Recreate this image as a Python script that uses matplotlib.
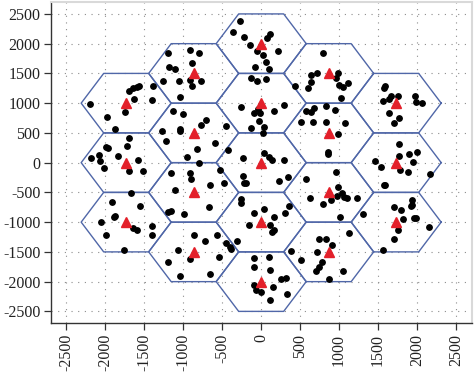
import numpy as np
import matplotlib
matplotlib.use('Agg')
import matplotlib.pyplot as plt

# cell centres (base stations)
cell_x = [-1732, -1732, -1732, -866, -866, -866, -866, 0, 0, 0, 0, 0,
          866, 866, 866, 866, 1732, 1732, 1732]
cell_y = [1000, 0, -1000, 1500, 500, -500, -1500, 2000, 1000, 0, -1000, -2000,
          1500, 500, -500, -1500, 1000, 0, -1000]
hex_r = 1000 / np.sqrt(3)

# users (grouped roughly per cell)
users_x = [
    -2200, -1690, -1638, -1594, -1561, -1383, -1629, -1399, -1753, -1982, -1871,
    -1697, -1995, -1964, -1718, -2181, -2079, -2062, -1842, -2011, -1578, -1693, -1510,
    -1676, -1913, -1893, -1875, -1556, -2054, -1995, -1645, -1591, -1399, -1399, -1760,
    -1191, -911, -800, -893, -1179, -1106, -1263, -1051, -918, -778, -893, -1046,
    -1135, -1008, -714, -774, -1042, -1038, -1272, -1221, -452, -587, -825, -957, -796, -426,
    -1153, -911, -898, -532, -651, -481, -1102, -1199, -1157, -991, -668,
    -860, -561, -719, -1068, -911, -1191, -1042, -656, -541, -446, -404, -387,
    -268, -362, -226, -140, 71, 115, -51, 29, 217, 64, -73, 106,
    -136, -56, 68, -260, -47, -94, -13, 170, 288, -31, 33, -128, 26,
    -235, 42, 97, 140, 293, -235, -226, -191, 224, 339,
    -264, -255, -98, 33, 361, 306, 170, -158, 110, 161, 135, -311,
    -98, 102, -89, 110, 255, 314, -94, -64, 4, 148, 335, 110,
    791, 633, 718, 986, 960, 633, 599, 429, 999, 1054, 1110, 1020,
    569, 680, 633, 837, 948, 514, 671, 837, 1075, 863, 854, 982,
    574, 964, 982, 629, 799, 893, 969, 1041, 1062, 1105, 1232, 1008,
    744, 837, 906, 1126, 718, 383, 505, 786, 744, 701, 1054, 875,
    1594, 1573, 1666, 1645, 1760, 1564, 1977, 1990, 2061, 1640, 1768, 1700,
    1773, 1764, 1900, 1997, 1454, 1538, 1946, 1786, 1879, 2168, 1594, 1582,
    1704, 1790, 1930, 1939, 1917, 1819, 1959, 1981, 1309, 1760, 2159, 1704, 1569,
]
users_y = [
    990, 1207, 1257, 1279, 1291, 1296, 1073, 1045, 849, 761, 572,
    410, 264, 242, 281, 70, 130, 25, 104, -97, 37, -137, -147,
    -515, -655, -906, -894, -732, -1000, -1212, -1095, -1140, -1073, -1212, -1463,
    1848, 1886, 1848, 1680, 1602, 1568, 1379, 1368, 1385, 1374, 1296, 1100,
    873, 823, 716, 639, 572, 538, 527, 365, 610, 331, 226, 87, -13, 214,
    -176, -181, -281, -130, -381, -343, -455, -833, -816, -861, -744,
    -1224, -1224, -1324, -1463, -1619, -1675, -1898, -1870, -1580, -1351, -1418, -1451,
    2388, 2199, 2110, 1970, 2087, 2160, 1876, 1809, 1869, 1685, 1608, 1575,
    1430, 1370, 1410, 940, 906, 828, 828, 870, 966, 706, 599, 582, 493,
    80, 164, 92, 37, 37, -220, -348, -348, -305, -237,
    -615, -682, -839, -777, -732, -849, -911, -1040, -1040, -1124, -1162, -1312,
    -1608, -1591, -1747, -1803, -1960, -1931, -2053, -2148, -2170, -2093, -2210, -2304,
    1842, 1475, 1502, 1508, 1424, 1358, 1251, 1291, 1301, 1279, 1334, 1084,
    861, 916, 856, 956, 889, 682, 677, 682, 665, 176, 147, 488,
    -276, -164, -405, -594, -699, -627, -565, -505, -577, -589, -589, -911,
    -1291, -1291, -1385, -1184, -1502, -1480, -1635, -1664, -1747, -1826, -1814, -1953,
    1291, 1251, 1112, 1062, 1117, 1028, 1112, 1012, 1007, 833, 749, 672,
    321, 120, 142, 181, 20, -70, 3, -130, -164, -192, -371, -381,
    -739, -799, -632, -716, -727, -950, -933, -923, -866, -1140, -1078, -1279, -1468,
]

ticks = np.arange(-2500, 2501, 500)

plt.rcParams['font.family'] = ['Liberation Serif', 'DejaVu Serif']

fig = plt.figure(figsize=(4.74, 3.74), dpi=100)
ax = fig.add_axes([0.107, 0.1356, 0.888, 0.859])

# hexagonal cells
ang = np.radians(np.arange(0, 361, 60))
for cx, cy in zip(cell_x, cell_y):
    ax.plot(cx + hex_r * np.cos(ang), cy + hex_r * np.sin(ang),
            color='#5067a8', lw=1.0, zorder=2)

ax.plot(users_x, users_y, 'o', color='black', markersize=3.9, zorder=3)
ax.plot(cell_x, cell_y, '^', color='#e3202a', markersize=7.5, zorder=4)

ax.set_xlim(-2700, 2700)
ax.set_ylim(-2700, 2700)
ax.set_xticks(ticks)
ax.set_yticks(ticks)
ax.set_xticklabels([str(t) for t in ticks], rotation=90)
ax.set_yticklabels([str(t) for t in ticks])
ax.tick_params(direction='out', length=5, width=0.9, color='#333333',
               labelsize=11.5, labelcolor='#222222', pad=2.5)
ax.grid(True, color='#8c8c8c', linestyle=(0, (1, 5)), linewidth=0.8)
ax.set_axisbelow(True)

for s in ['left', 'bottom']:
    ax.spines[s].set_color('#333333')
    ax.spines[s].set_linewidth(1.0)
for s in ['top', 'right']:
    ax.spines[s].set_color('#d9d9d9')
    ax.spines[s].set_linewidth(1.5)

plt.savefig('out.png', dpi=100)
